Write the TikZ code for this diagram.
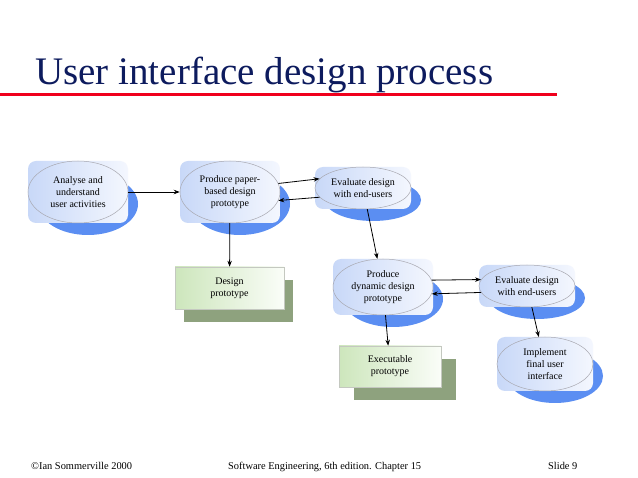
\documentclass[tikz,border=0pt]{standalone}
\usepackage{fontspec}
\setmainfont{Liberation Serif}
\usetikzlibrary{arrows.meta,shapes.geometric}
\definecolor{titlenavy}{HTML}{0D1B5E}
\definecolor{rulered}{HTML}{F0001C}
\definecolor{ellshadowc}{HTML}{5B8EF2}
\definecolor{ellL}{HTML}{C8D8F8}
\definecolor{ellR}{HTML}{F4F7FE}
\definecolor{elloutline}{HTML}{A8A8B0}
\definecolor{greenL}{HTML}{CDE6BC}
\definecolor{greenR}{HTML}{FAFDF8}
\definecolor{greenshadowc}{HTML}{8EA27E}
\definecolor{rectborder}{HTML}{C4C8C0}
\tikzset{
  ellnode/.style={ellipse, draw=elloutline, line width=0.5pt, inner sep=0pt, align=center,
    font=\fontsize{10}{12}\selectfont},
  rectnode/.style={rectangle, draw=rectborder, line width=0.5pt, left color=greenL, right color=greenR,
    inner sep=0pt, align=center, font=\fontsize{10}{12}\selectfont},
  arr/.style={-{Stealth[length=6pt,width=4.5pt]}, line width=0.8pt, black},
  footer/.style={anchor=base west, inner sep=0pt, font=\fontsize{10.4}{12}\selectfont}
}
\newcommand{\uiell}[6]{%
  \fill[ellshadowc] (#2+10,#3+12) ellipse [x radius={#4/2*1pt}, y radius={#5/2*1pt}];
  \shade[left color=ellL, right color=ellR, rounded corners=8pt]
    (#2-#4/2,#3-#5/2) rectangle (#2+#4/2,#3+#5/2);
  \node[ellnode, minimum width=#4pt, minimum height=#5pt] (#1) at (#2,#3) {#6};}
\newcommand{\uirect}[7]{%
  \fill[greenshadowc] (#2-#4/2+#7,#3-#5/2+13) rectangle (#2+#4/2+#7,#3+#5/2+13);
  \node[rectnode, minimum width=#4pt, minimum height=#5pt] (#1) at (#2,#3) {#6};}
\begin{document}
\begin{tikzpicture}[x=1pt,y=-1pt]
\useasboundingbox (0,0) rectangle (638,478);
\fill[white] (0,0) rectangle (638,478);
% title
\node[anchor=base west, inner sep=0pt, text=titlenavy, font=\fontsize{39}{44}\selectfont] (title) at (35,85) {User interface design process};
\coordinate (ruleL) at (0,94.5);
\coordinate (ruleR) at (557,94.5);
\draw[rulered, line width=3pt] (ruleL) -- (ruleR);
% activities
\uiell{e1}{78}{192}{100}{62}{Analyse and\\understand\\user activities}
\uiell{e2}{230}{192}{100}{62}{Produce paper-\\based design\\prototype}
\uiell{e3}{363}{188}{96}{42}{Evaluate design\\with end-users}
\uiell{e4}{383}{287}{100}{56}{Produce\\dynamic design\\prototype}
\uiell{e5}{527}{286}{96}{42}{Evaluate design\\with end-users}
\uiell{e6}{545}{364}{96}{54}{Implement\\final user\\interface}
% products
\uirect{r1}{229.5}{288}{109}{42}{Design\\prototype}{9}
\uirect{r2}{390}{366.5}{102}{41}{Executable\\prototype}{15}
% connectors
\draw[arr] (e1) -- (e2);
\draw[arr] (e2.10) -- (e3.168);
\draw[arr] (e3.192) -- (e2.350);
\draw[arr] (e2) -- (r1);
\draw[arr] (e3) -- (e4);
\draw[arr] (e4.8) -- (e5.172);
\draw[arr] (e5.188) -- (e4.352);
\draw[arr] (e4) -- (r2);
\draw[arr] (e5) -- (e6);
% footer
\node[footer] (f1) at (31,470) {©Ian Sommerville 2000};
\node[footer] (f2) at (228,470) {Software Engineering, 6th edition. Chapter 15};
\node[footer] (f3) at (548,470) {Slide 9};
\end{tikzpicture}
\end{document}
